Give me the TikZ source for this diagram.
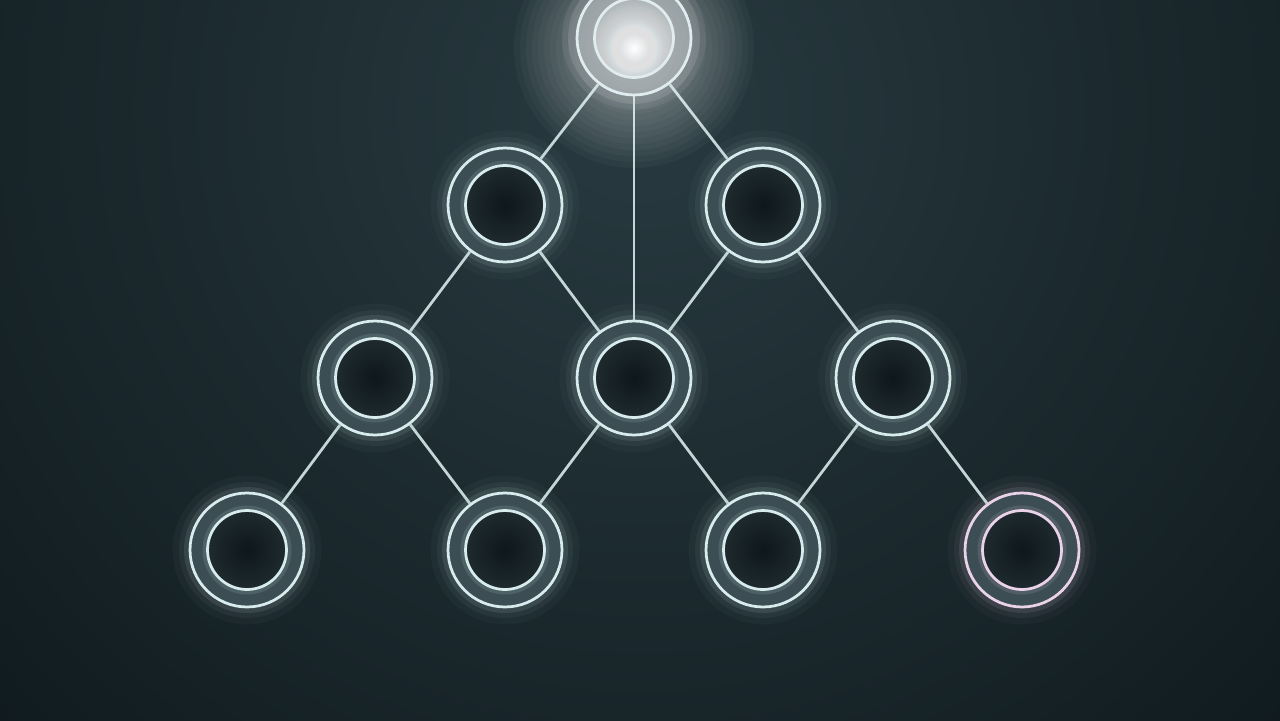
\documentclass[tikz,border=0pt]{standalone}
\definecolor{bgin}{HTML}{283A40}
\definecolor{bgout}{HTML}{081013}
\definecolor{ringline}{HTML}{D8ECEE}
\definecolor{ringfill}{HTML}{3C4E54}
\definecolor{core}{HTML}{0E171B}
\definecolor{pinkline}{HTML}{EAD2E8}
\definecolor{edgecol}{HTML}{C4D6D8}
\begin{document}
\begin{tikzpicture}[x=0.02cm,y=-0.02cm,
  ringnode/.style={circle, minimum size=2.28cm, inner sep=0pt, draw=#1, line width=0.055cm, fill=ringfill,
    preaction={draw=#1, line width=0.7cm, draw opacity=0.03},
    preaction={draw=#1, line width=0.44cm, draw opacity=0.05},
    preaction={draw=#1, line width=0.24cm, draw opacity=0.1},
    path picture={
      \draw[#1, line width=0.2cm, draw opacity=0.12] (path picture bounding box.center) circle (0.79cm);
      \shadedraw[draw=#1, line width=0.055cm, inner color=core, outer color=ringfill!35!core] (path picture bounding box.center) circle (0.79cm);
    }},
  ringnode/.default=ringline,
  topnode/.style={circle, minimum size=2.28cm, inner sep=0pt, draw=ringline, line width=0.055cm, fill=ringfill!70!white,
    preaction={draw=white, line width=0.6cm, draw opacity=0.08},
    preaction={draw=white, line width=0.36cm, draw opacity=0.12},
    path picture={
      \begin{scope}
        \clip (path picture bounding box.center) circle (0.79cm);
        \shade[inner color=white, outer color=ringfill!60!white] ([yshift=-0.2cm]path picture bounding box.center) circle (1.0cm);
      \end{scope}
      \draw[ringline, line width=0.055cm] (path picture bounding box.center) circle (0.79cm);
    }},
  edge/.style={draw=edgecol, line width=0.055cm}
]
\useasboundingbox (0,0) rectangle (1280,720);
\begin{scope}
\clip (0,0) rectangle (1280,720);
\shade[inner color=bgin, outer color=bgout] (640,110) circle (1200);
\end{scope}

\node[topnode] (t) at (634,38) {};
\node[ringnode] (a1) at (505,205) {};
\node[ringnode] (a2) at (763,205) {};
\node[ringnode] (b1) at (375,378) {};
\node[ringnode] (b2) at (634,378) {};
\node[ringnode] (b3) at (893,378) {};
\node[ringnode] (c1) at (247,550) {};
\node[ringnode] (c2) at (505,550) {};
\node[ringnode] (c3) at (763,550) {};
\node[ringnode=pinkline] (c4) at (1022,550) {};

\draw[edge] (t) -- (a1);
\draw[edge] (t) -- (a2);
\draw[edge] (t) -- (b2);
\draw[edge] (a1) -- (b1);
\draw[edge] (a1) -- (b2);
\draw[edge] (a2) -- (b2);
\draw[edge] (a2) -- (b3);
\draw[edge] (b1) -- (c1);
\draw[edge] (b1) -- (c2);
\draw[edge] (b2) -- (c2);
\draw[edge] (b2) -- (c3);
\draw[edge] (b3) -- (c3);
\draw[edge] (b3) -- (c4);

\foreach \r in {120,114,...,6}
  \fill[white, opacity=0.03] ([yshift=-0.2cm]t.center) circle (\r);
\end{tikzpicture}
\end{document}
